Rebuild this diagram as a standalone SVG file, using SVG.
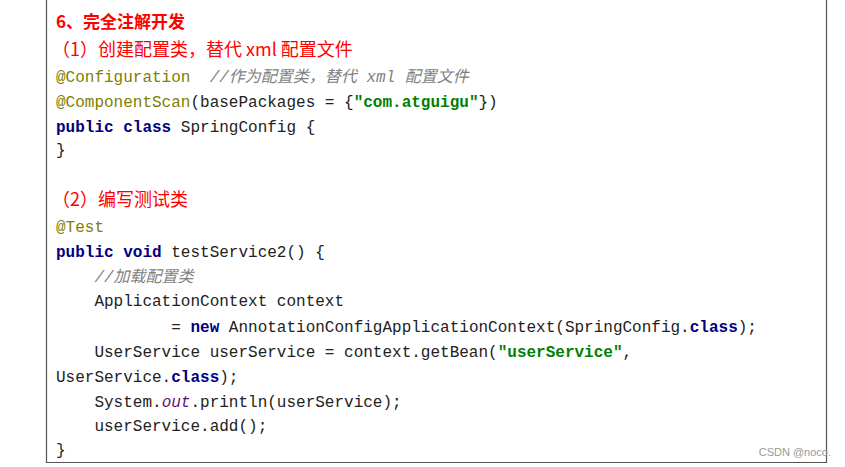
<svg xmlns="http://www.w3.org/2000/svg" width="845" height="467" viewBox="0 0 845 467">
<style>
text{font-family:"Liberation Mono","Noto Sans CJK SC",monospace;font-size:16px;fill:#222;white-space:pre}
.t{fill:#f00;font-family:"Noto Sans CJK SC",sans-serif}
.a{fill:#808000}.c{fill:#808080;font-style:italic}.k{fill:#000080;font-weight:bold}.s{fill:#008000;font-weight:bold}.o{fill:#660e7a;font-style:italic}
</style>
<rect width="845" height="467" fill="#fff"/>
<path d="M46.5,0V462.5H826.5V0" fill="none" stroke="#555" stroke-width="1.2"/>
<g id="code" xml:space="preserve">
<text x="56" y="28" class="t" font-weight="bold" style="font-size:17px">6、完全注解开发</text>
<text x="52" y="56" class="t" style="font-size:18px">（1）创建配置类，替代 xml 配置文件</text>
<text x="56" y="82"><tspan class="a">@Configuration</tspan>  <tspan class="c">//作为配置类，替代 xml 配置文件</tspan></text>
<text x="56" y="107"><tspan class="a">@ComponentScan</tspan>(basePackages = {<tspan class="s">"com.atguigu"</tspan>})</text>
<text x="56" y="132"><tspan class="k">public class</tspan> SpringConfig {</text>
<text x="56" y="155">}</text>
<text x="52" y="206" class="t" style="font-size:18px">（2）编写测试类</text>
<text x="56" y="232" class="a">@Test</text>
<text x="56" y="257"><tspan class="k">public void</tspan> testService2() {</text>
<text x="56" y="282">    <tspan class="c">//加载配置类</tspan></text>
<text x="56" y="306">    ApplicationContext context</text>
<text x="56" y="332">            = <tspan class="k">new</tspan> AnnotationConfigApplicationContext(SpringConfig.<tspan class="k">class</tspan>);</text>
<text x="56" y="357">    UserService userService = context.getBean(<tspan class="s">"userService"</tspan>,</text>
<text x="56" y="382">UserService.<tspan class="k">class</tspan>);</text>
<text x="56" y="407">    System.<tspan class="o">out</tspan>.println(userService);</text>
<text x="56" y="431">    userService.add();</text>
<text x="56" y="455">}</text>
<text x="831" y="456" text-anchor="end" style="font-family:'Liberation Sans',sans-serif;font-size:11px;fill:#999">CSDN @noco.</text>
</g>
</svg>
